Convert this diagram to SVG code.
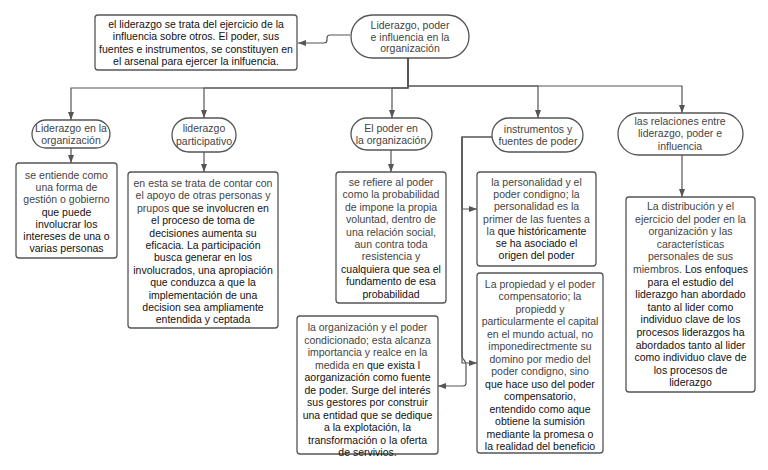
<svg xmlns="http://www.w3.org/2000/svg" width="768" height="470" viewBox="0 0 768 470">
<defs>
<marker id="ah" markerWidth="8" markerHeight="6" refX="8" refY="3" orient="auto" markerUnits="userSpaceOnUse">
<path d="M0,0 L8,3 L0,6 z" fill="#555"/>
</marker>
<style>
.box{fill:#fff;stroke:#555;stroke-width:1.3}
.t{font-family:"Liberation Sans",Arial,sans-serif;font-size:10.5px;fill:#444;text-anchor:middle}
.d{fill:#111}
.c{fill:none;stroke:#555;stroke-width:1.2;marker-end:url(#ah)}
</style>
</defs>
<rect width="768" height="470" fill="#fff"/>

<g id="connectors">
<path class="c" d="M350,35 H330 Q327,35 327,38 V40 Q327,43 324,43 H298"/>
<path class="c" d="M408,58 V86 H682 V113"/>
<path class="c" d="M408,58 V86 H538 V118"/>
<path class="c" d="M408,58 V88 H71 V120"/>
<path class="c" d="M408,58 V88 H204 V118"/>
<path class="c" d="M408,58 V88 H392 V118"/>
<path class="c" d="M71,148 V163"/>
<path class="c" d="M204,152 V172"/>
<path class="c" d="M391,150 V172"/>
<path class="c" d="M682,155 V197"/>
<path class="c" d="M492,137 H462 V209 H477"/>
<path class="c" d="M492,137 H462 V363 H477"/>
<path class="c" d="M462,137 V355 Q462,358 464,360 Q466,362 466,365 V383 Q466,386 463,386 H438"/>
</g>

<g id="hub">
<rect class="box" x="351" y="15" width="118" height="43" rx="21.5"/>
<text class="t"><tspan x="410" y="29">Liderazgo, poder</tspan><tspan x="410" y="40.5">e influencia en la</tspan><tspan x="410" y="52">organización</tspan></text>
</g>

<g id="intro">
<rect class="box" x="95" y="15" width="202" height="55" rx="3"/>
<text class="t d"><tspan x="196" y="27.5">el liderazgo se trata del ejercicio de la</tspan><tspan x="196" y="40">influencia sobre otros. El poder, sus</tspan><tspan x="196" y="52.5">fuentes e instrumentos, se constituyen en</tspan><tspan x="196" y="65">el arsenal para ejercer la inlfuencia.</tspan></text>
</g>

<g id="n1">
<rect class="box" x="32" y="120" width="78" height="28" rx="14"/>
<text class="t"><tspan x="71" y="131.5">Liderazgo en la</tspan><tspan x="71" y="143.5">organización</tspan></text>
</g>
<g id="n2">
<rect class="box" x="172" y="118" width="64" height="34" rx="17"/>
<text class="t"><tspan x="204" y="132">liderazgo</tspan><tspan x="204" y="144.5">participativo</tspan></text>
</g>
<g id="n3">
<rect class="box" x="351" y="118" width="81" height="32" rx="16"/>
<text class="t"><tspan x="391" y="131.5">El poder en</tspan><tspan x="391" y="144">la organización</tspan></text>
</g>
<g id="n4">
<rect class="box" x="492" y="118" width="91" height="34" rx="17"/>
<text class="t"><tspan x="538" y="132.5">instrumentos y</tspan><tspan x="538" y="145">fuentes de poder</tspan></text>
</g>
<g id="n5">
<rect class="box" x="618" y="113" width="125" height="42" rx="21"/>
<text class="t"><tspan x="680" y="125">las relaciones entre</tspan><tspan x="680" y="137">liderazgo, poder e</tspan><tspan x="680" y="149.5">influencia</tspan></text>
</g>

<g id="boxA">
<rect class="box" x="16" y="163" width="101" height="95" rx="3"/>
<text class="t"><tspan x="66.5" y="179">se entiende como</tspan><tspan x="66.5" y="191.2">una forma de</tspan><tspan x="66.5" y="203.4">gestión o gobierno</tspan><tspan class="d" x="66.5" y="215.6">que puede</tspan><tspan class="d" x="66.5" y="227.8">involucrar los</tspan><tspan class="d" x="66.5" y="240">intereses de una o</tspan><tspan class="d" x="66.5" y="252.2">varias personas</tspan></text>
</g>

<g id="boxB">
<rect class="box" x="128" y="172" width="150" height="156" rx="3"/>
<text class="t"><tspan x="203" y="187">en esta se trata de contar con</tspan><tspan x="203" y="199.4">el apoyo de otras personas y</tspan><tspan x="203" y="211.8">prupos <tspan class="d">que se involucren en</tspan></tspan><tspan class="d" x="203" y="224.2">el proceso de toma de</tspan><tspan class="d" x="203" y="236.6">decisiones aumenta su</tspan><tspan class="d" x="203" y="249">eficacia. La participación</tspan><tspan class="d" x="203" y="261.4">busca generar en los</tspan><tspan class="d" x="203" y="273.8">involucrados, una apropiación</tspan><tspan class="d" x="203" y="286.2">que conduzca a que la</tspan><tspan class="d" x="203" y="298.6">implementación de una</tspan><tspan class="d" x="203" y="311">decision sea ampliamente</tspan><tspan class="d" x="203" y="323.4">entendida y ceptada</tspan></text>
</g>

<g id="boxC">
<rect class="box" x="336" y="172" width="110" height="131" rx="3"/>
<text class="t"><tspan x="391" y="186">se refiere al poder</tspan><tspan x="391" y="198.4">como la probabilidad</tspan><tspan x="391" y="210.8">de impone la propia</tspan><tspan x="391" y="223.2">voluntad, dentro de</tspan><tspan x="391" y="235.6">una relación social,</tspan><tspan x="391" y="248">aun contra toda</tspan><tspan x="391" y="260.4">resistencia y</tspan><tspan class="d" x="391" y="272.8">cualquiera que sea el</tspan><tspan class="d" x="391" y="285.2">fundamento de esa</tspan><tspan class="d" x="391" y="297.6">probabilidad</tspan></text>
</g>

<g id="boxD">
<rect class="box" x="477" y="172" width="119" height="94" rx="3"/>
<text class="t"><tspan x="536.5" y="186">la personalidad y el</tspan><tspan x="536.5" y="198.2">poder condigno; la</tspan><tspan x="536.5" y="210.4">personalidad es la</tspan><tspan x="536.5" y="222.6">primer de las fuentes a</tspan><tspan x="536.5" y="234.8">la <tspan class="d">que históricamente</tspan></tspan><tspan class="d" x="536.5" y="247">se ha asociado el</tspan><tspan class="d" x="536.5" y="259.2">origen del poder</tspan></text>
</g>

<g id="boxE">
<rect class="box" x="477" y="273" width="126" height="180" rx="3"/>
<text class="t"><tspan x="540" y="287.5">La propiedad y el poder</tspan><tspan x="540" y="300">compensatorio; la</tspan><tspan x="540" y="312.5">propiedd y</tspan><tspan x="540" y="325">particularmente el capital</tspan><tspan x="540" y="337.5">en el mundo actual, no</tspan><tspan x="540" y="350">imponedirectmente su</tspan><tspan x="540" y="362.5">domino por medio del</tspan><tspan x="540" y="375">poder condigno, sino</tspan><tspan class="d" x="540" y="387.5">que hace uso del poder</tspan><tspan class="d" x="540" y="400">compensatorio,</tspan><tspan class="d" x="540" y="412.5">entendido como aque</tspan><tspan class="d" x="540" y="425">obtiene la sumisión</tspan><tspan class="d" x="540" y="437.5">mediante la promesa o</tspan><tspan class="d" x="540" y="450">la realidad del beneficio</tspan></text>
</g>

<g id="boxF">
<rect class="box" x="297" y="316" width="141" height="138" rx="3"/>
<text class="t"><tspan x="367.5" y="331">la organización y el poder</tspan><tspan x="367.5" y="343.5">condicionado; esta alcanza</tspan><tspan x="367.5" y="356">importancia y realce en la</tspan><tspan x="367.5" y="368.5">medida en <tspan class="d">que exista l</tspan></tspan><tspan class="d" x="367.5" y="381">aorganización como fuente</tspan><tspan class="d" x="367.5" y="393.5">de poder. Surge del interés</tspan><tspan class="d" x="367.5" y="406">sus gestores por construir</tspan><tspan class="d" x="367.5" y="418.5">una entidad que se dedique</tspan><tspan class="d" x="367.5" y="431">a la explotación, la</tspan><tspan class="d" x="367.5" y="443.5">transformación o la oferta</tspan><tspan class="d" x="367.5" y="456">de servivios.</tspan></text>
</g>

<g id="boxG">
<rect class="box" x="626" y="197" width="129" height="195" rx="3"/>
<text class="t"><tspan x="690.5" y="210">La distribución y el</tspan><tspan x="690.5" y="222.6">ejercicio del poder en la</tspan><tspan x="690.5" y="235.2">organización y las</tspan><tspan x="690.5" y="247.8">características</tspan><tspan x="690.5" y="260.4">personales de sus</tspan><tspan x="690.5" y="273">miembros. <tspan class="d">Los enfoques</tspan></tspan><tspan class="d" x="690.5" y="285.6">para el estudio del</tspan><tspan class="d" x="690.5" y="298.2">liderazgo han abordado</tspan><tspan class="d" x="690.5" y="310.8">tanto al lider como</tspan><tspan class="d" x="690.5" y="323.4">individuo clave de los</tspan><tspan class="d" x="690.5" y="336">procesos liderazgos ha</tspan><tspan class="d" x="690.5" y="348.6">abordados tanto al lider</tspan><tspan class="d" x="690.5" y="361.2">como individuo clave de</tspan><tspan class="d" x="690.5" y="373.8">los procesos de</tspan><tspan class="d" x="690.5" y="386.4">liderazgo</tspan></text>
</g>
</svg>
